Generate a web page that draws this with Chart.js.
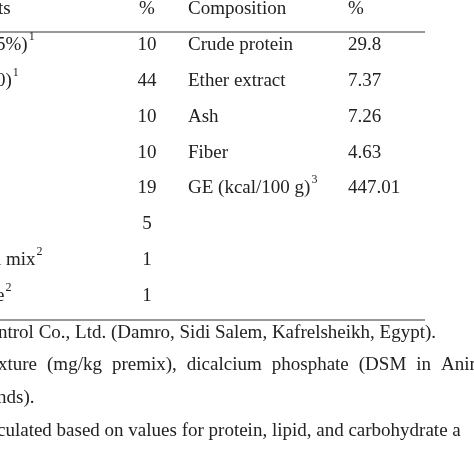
<!DOCTYPE html>
<html>
<head>
<meta charset="utf-8">
<script src="https://cdn.jsdelivr.net/npm/chart.js@4"></script>
<style>
  html, body { margin: 0; padding: 0; background: #fff; }
  canvas { display: block; }
</style>
</head>
<body>
<canvas id="tbl" width="474" height="474"></canvas>
<script>
// table content
const headers = ['ts', '%', 'Composition', '%'];
const ingredientFrag = ['5%)', '0)', '', '', '', '', 'l mix', 'e'];
const ingredientSup = ['1', '1', '', '', '', '', '2', '2'];
const ingredientPct = ['10', '44', '10', '10', '19', '5', '1', '1'];
const compNames = ['Crude protein', 'Ether extract', 'Ash', 'Fiber', 'GE (kcal/100 g)'];
const compSup = ['', '', '', '', '3'];
const compValues = ['29.8', '7.37', '7.26', '4.63', '447.01'];
const footnotes = [
    'ntrol Co., Ltd. (Damro, Sidi Salem, Kafrelsheikh, Egypt).',
    'xture (mg/kg premix), dicalcium phosphate (DSM in Anima',
    'nds).',
    'culated based on values for protein, lipid, and carbohydrate a'
];

// layout in the chart's own 0..474 coordinate space
const headerY = 9;
const rowY = [45, 81, 117, 153, 188, 224, 260, 296];
const footY = [333, 365, 398, 431];
const ruleY = [32, 320];
const colX = { frag: -4, pct: 147, comp: 188, val: 348 };

const FONT = '"Liberation Serif", "DejaVu Serif", serif';

const textPlugin = {
    id: 'tableText',
    afterDraw(chart) {
        const ctx = chart.ctx;
        const sx = v => chart.scales.x.getPixelForValue(v);
        const sy = v => chart.scales.y.getPixelForValue(v);
        ctx.save();
        ctx.fillStyle = '#222';
        ctx.textBaseline = 'middle';

        function put(t, x, y, align, sup) {
            ctx.font = '19px ' + FONT;
            ctx.textAlign = align;
            ctx.fillText(t, sx(x), sy(y));
            if (sup) {
                const w = ctx.measureText(t).width;
                const end = align === 'left' ? sx(x) + w : sx(x) + w / 2;
                ctx.font = '12px ' + FONT;
                ctx.textAlign = 'left';
                ctx.fillText(sup, end + 1, sy(y) - 8);
            }
        }

        put(headers[0], -2, headerY, 'left');
        put(headers[1], colX.pct, headerY, 'center');
        put(headers[2], colX.comp, headerY, 'left');
        put(headers[3], colX.val + 8, headerY, 'center');

        rowY.forEach((y, i) => {
            if (ingredientFrag[i]) put(ingredientFrag[i], colX.frag, y, 'left', ingredientSup[i]);
            put(ingredientPct[i], colX.pct, y, 'center');
            if (i < compNames.length) {
                put(compNames[i], colX.comp, y, 'left', compSup[i]);
                put(compValues[i], colX.val, y, 'left');
            }
        });

        ctx.font = '19px ' + FONT;
        ctx.textAlign = 'left';
        footnotes.forEach((t, i) => {
            if (i === 1) {
                // justified line running past the right edge
                const words = t.split(' ');
                let x = sx(-2);
                words.forEach(w => {
                    ctx.fillText(w, x, sy(footY[i]));
                    x += ctx.measureText(w).width + 10;
                });
            } else {
                ctx.fillText(t, sx(i === 0 ? -2 : -3), sy(footY[i]));
            }
        });
        ctx.restore();
    }
};

new Chart(document.getElementById('tbl').getContext('2d'), {
    type: 'line',
    data: {
        datasets: ruleY.map(y => ({
            data: [{ x: 0, y: y }, { x: 425, y: y }],
            borderColor: '#333',
            borderWidth: 1.2,
            pointRadius: 0
        }))
    },
    options: {
        responsive: false,
        animation: false,
        layout: { padding: 0 },
        plugins: { legend: { display: false }, tooltip: { enabled: false } },
        scales: {
            x: { type: 'linear', min: 0, max: 474, display: false },
            y: { type: 'linear', min: 0, max: 474, reverse: true, display: false }
        }
    },
    plugins: [textPlugin]
});
</script>
</body>
</html>
